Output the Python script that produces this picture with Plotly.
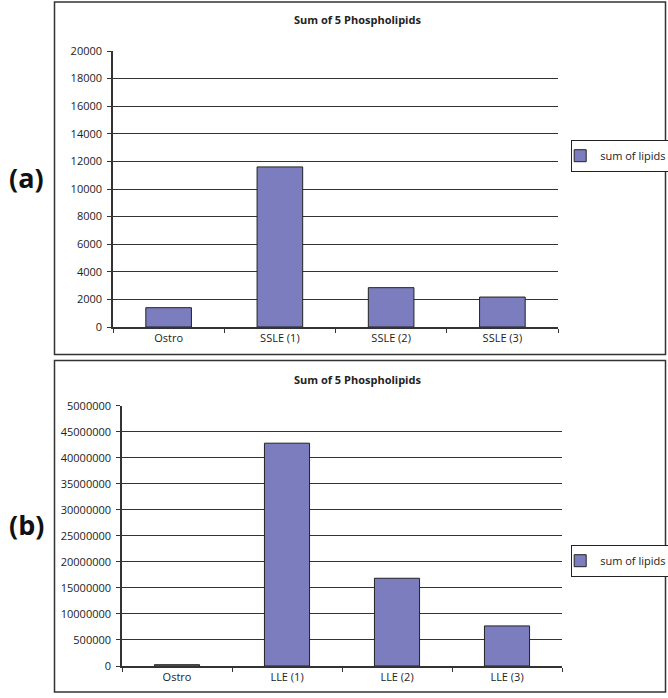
import plotly.graph_objects as go

# ---- data ----
cats_a = ["Ostro", "SSLE (1)", "SSLE (2)", "SSLE (3)"]
vals_a = [1400, 11600, 2850, 2170]
ticks_a = [0, 2000, 4000, 6000, 8000, 10000, 12000, 14000, 16000, 18000, 20000]
ticktext_a = ["0", "2000", "4000", "6000", "8000", "10000", "12000", "14000",
              "16000", "18000", "20000"]

cats_b = ["Ostro", "LLE (1)", "LLE (2)", "LLE (3)"]
vals_b = [250000, 42800000, 16850000, 7700000]
ticks_b = [0, 5000000, 10000000, 15000000, 20000000, 25000000,
           30000000, 35000000, 40000000, 45000000, 50000000]
ticktext_b = ["0", "500000", "10000000", "15000000", "20000000", "25000000",
              "30000000", "35000000", "40000000", "45000000", "5000000"]

series_name = "sum of lipids"
chart_title = "Sum of 5 Phospholipids"
panel_labels = ["(a)", "(b)"]

W, H = 668, 698
FONT = "Open Sans"
BAR = "#7b7dbf"


def px_x(x):
    return x / W


def px_y(y):
    return 1 - y / H


fig = go.Figure()
fig.add_trace(go.Bar(x=cats_a, y=vals_a, name=series_name, xaxis="x", yaxis="y",
                     marker=dict(color=BAR, line=dict(color="#222222", width=1)),
                     legend="legend", width=0.41))
fig.add_trace(go.Bar(x=cats_b, y=vals_b, name=series_name, xaxis="x2", yaxis="y2",
                     marker=dict(color=BAR, line=dict(color="#222222", width=1)),
                     legend="legend2", width=0.41))

tickfont = dict(family=FONT, size=11, color="#222222")

xcommon = dict(type="category", showline=True, linecolor="#333333", linewidth=1.5,
               ticks="outside", tickson="boundaries", ticklen=4, tickcolor="#333333",
               showgrid=False, tickfont=tickfont, fixedrange=True, automargin=False)
ycommon = dict(showline=True, linecolor="#333333", linewidth=1.5, ticks="outside",
               ticklen=4, tickcolor="#333333", showgrid=False, zeroline=False,
               tickfont=tickfont, ticklabelstandoff=3, fixedrange=True,
               automargin=False)

legend_common = dict(xanchor="left", yanchor="top", bgcolor="white",
                     bordercolor="#222222", borderwidth=1.2,
                     font=dict(family=FONT, size=11, color="#222222"),
                     itemwidth=30, indentation=-12, tracegroupgap=0)

fig.update_layout(
    width=W, height=H, autosize=False,
    margin=dict(l=0, r=0, t=0, b=0, pad=0, autoexpand=False),
    paper_bgcolor="white", plot_bgcolor="white",
    font=dict(family=FONT, color="#222222"),
    xaxis=dict(xcommon, domain=[px_x(113), px_x(558)], anchor="y"),
    yaxis=dict(ycommon, domain=[px_y(327), px_y(51)], anchor="x",
               range=[0, 20000], tickvals=ticks_a, ticktext=ticktext_a,
               minor=dict(tickvals=ticks_a[1:-1], showgrid=True,
                          gridcolor="#333333", gridwidth=1.2, ticks="")),
    xaxis2=dict(xcommon, domain=[px_x(122), px_x(562)], anchor="y2"),
    yaxis2=dict(ycommon, domain=[px_y(666), px_y(405.7)], anchor="x2",
                range=[0, 50000000], tickvals=ticks_b, ticktext=ticktext_b,
                minor=dict(tickvals=ticks_b[1:-1], showgrid=True,
                           gridcolor="#333333", gridwidth=1.2, ticks="")),
    legend=dict(legend_common, x=px_x(571), y=px_y(140)),
    legend2=dict(legend_common, x=px_x(571), y=px_y(545)),
    showlegend=True,
)

# panel borders
for (y0, y1) in [(2, 354.5), (360.5, 692)]:
    fig.add_shape(type="rect", xref="paper", yref="paper",
                  x0=px_x(54.5), x1=px_x(665.5), y0=px_y(y1), y1=px_y(y0),
                  line=dict(color="#333333", width=1.5), fillcolor="rgba(0,0,0,0)",
                  layer="below")

# titles
for ty in [19, 379]:
    fig.add_annotation(text="<b>" + chart_title + "</b>", xref="paper", yref="paper",
                       x=px_x(357), y=px_y(ty), showarrow=False,
                       font=dict(family=FONT, size=11, color="#222222"),
                       xanchor="center", yanchor="middle")

# panel labels
for lab, ly in zip(panel_labels, [178, 524]):
    fig.add_annotation(text="<b>" + lab + "</b>", xref="paper", yref="paper",
                       x=px_x(26), y=px_y(ly), showarrow=False,
                       font=dict(family=FONT, size=27, color="#111111"),
                       xanchor="center", yanchor="middle")

post = (
    "document.documentElement.style.margin='0';"
    "document.documentElement.style.overflow='hidden';"
    "document.body.style.margin='0';"
    "document.body.style.padding='0';"
    "document.body.style.overflow='hidden';"
    "var d=document.getElementById('{plot_id}');"
    "d.style.position='fixed';d.style.left='0px';d.style.top='0px';"
)

fig.write_html("out.html", config={"displayModeBar": False}, post_script=post)
